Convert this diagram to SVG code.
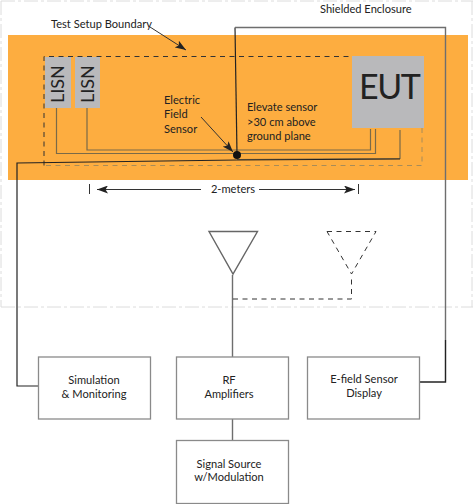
<svg xmlns="http://www.w3.org/2000/svg" width="474" height="504" viewBox="0 0 474 504">
<defs>
<style>
text{font-family:"Lato","Liberation Sans",sans-serif;fill:#222}
.t{font-size:11.1px}
.c{text-anchor:middle}
.box{fill:#fff;stroke:#8a8a8a;stroke-width:1.3}
.g{fill:#b9b9bb}
.w{fill:none;stroke:#7a6a48;stroke-width:1.2}
.k{fill:none;stroke:#222;stroke-width:1.2}
.e{fill:none;stroke:#6e6e6e;stroke-width:1.4}
.d{fill:none;stroke:#333;stroke-width:1;stroke-dasharray:5 4.5}
.f{fill:none;stroke:#a88c58;stroke-width:1;stroke-dasharray:5 4.5}
.a{fill:none;stroke:#333;stroke-width:1}
</style>
<marker id="ah" markerWidth="12" markerHeight="8" refX="11" refY="4" orient="auto" markerUnits="userSpaceOnUse"><path d="M0 0L11 4L0 8L2.500 4Z" fill="#222"/></marker>
</defs>
<rect width="474" height="504" fill="#fff"/>
<path d="M1 307H473M472 1V307M1 1H473M1 1V307" fill="none" stroke="#dcdcdc" stroke-width="1" stroke-dasharray="14 3 3 3"/>
<rect id="test-area" x="8" y="35" width="460" height="145" fill="#fdad40"/>
<g id="test-boundary"><path class="d" d="M44 165.500V56.500H422"/><path class="f" d="M422 128V165.500H44"/></g>
<g id="connectors">
<path class="w" d="M56.500 107V153.500H375.500V129"/>
<path class="w" d="M87 107V150H370.500V129"/>
<path class="w" d="M237 159.500L400 158.500V130"/>
<path class="k" d="M237 155L235 27.500"/>
<path class="e" d="M235 27.500H445.500V382H418"/>
<path class="k" d="M400 159L237 160L17 163V386H38"/>
<path class="e" d="M232.500 275V357M232.500 418V440"/>
<path class="k" d="M418 382H445.500V340"/>
<path class="d" d="M233 299H351.500V275"/>
<path class="a" d="M150 27L186 50" marker-end="url(#ah)"/>
<path class="a" d="M201 117L233 152" marker-end="url(#ah)"/>
<path class="a" d="M201 189.500H97" marker-end="url(#ah)"/>
<path class="a" d="M259 189.500H355" marker-end="url(#ah)"/>
<path class="a" d="M89.500 184V194M358.500 184V194"/>
</g>
<g id="sensor"><circle cx="237" cy="155" r="4" fill="#111"/><text class="t" x="164" y="104">Electric</text><text class="t" x="164" y="118">Field</text><text class="t" x="164" y="133">Sensor</text></g>
<g id="lisn1"><rect class="g" x="45" y="57" width="26" height="51"/><text x="64" y="103" font-size="18" transform="rotate(-90 64 103)">LISN</text></g>
<g id="lisn2"><rect class="g" x="75" y="57" width="25" height="51"/><text x="94" y="103" font-size="18" transform="rotate(-90 94 103)">LISN</text></g>
<g id="eut"><rect class="g" x="352" y="56" width="72" height="72"/><text x="359" y="99" font-size="34" letter-spacing="-1.500">EUT</text></g>
<g id="labels">
<text class="t" x="51" y="28">Test Setup Boundary</text>
<text class="t" x="320" y="13">Shielded Enclosure</text>
<text class="t" x="247" y="111">Elevate sensor</text>
<text class="t" x="247" y="126">&gt;30 cm above</text>
<text class="t" x="247" y="140">ground plane</text>
<text class="t c" x="233" y="193">2-meters</text>
</g>
<g id="antenna"><path d="M209 231.500H257.500L233 274Z" fill="#fff" stroke="#666" stroke-width="1.400"/></g>
<g id="antenna-moved"><path d="M327 231.500H376L351.500 274Z" class="d"/></g>
<g id="sim"><rect class="box" x="38.500" y="357" width="112" height="62"/><text class="t c" x="94" y="384">Simulation</text><text class="t c" x="94" y="398">&amp; Monitoring</text></g>
<g id="rf"><rect class="box" x="176.500" y="357" width="112" height="62"/><text class="t c" x="229" y="384">RF</text><text class="t c" x="229" y="398">Amplifiers</text></g>
<g id="display"><rect class="box" x="307.500" y="357" width="112" height="62"/><text class="t c" x="364" y="383">E-field Sensor</text><text class="t c" x="364" y="397">Display</text></g>
<g id="source"><rect class="box" x="176.500" y="440.500" width="112" height="63"/><text class="t c" x="229" y="468">Signal Source</text><text class="t c" x="229" y="481">w/Modulation</text></g>
</svg>
